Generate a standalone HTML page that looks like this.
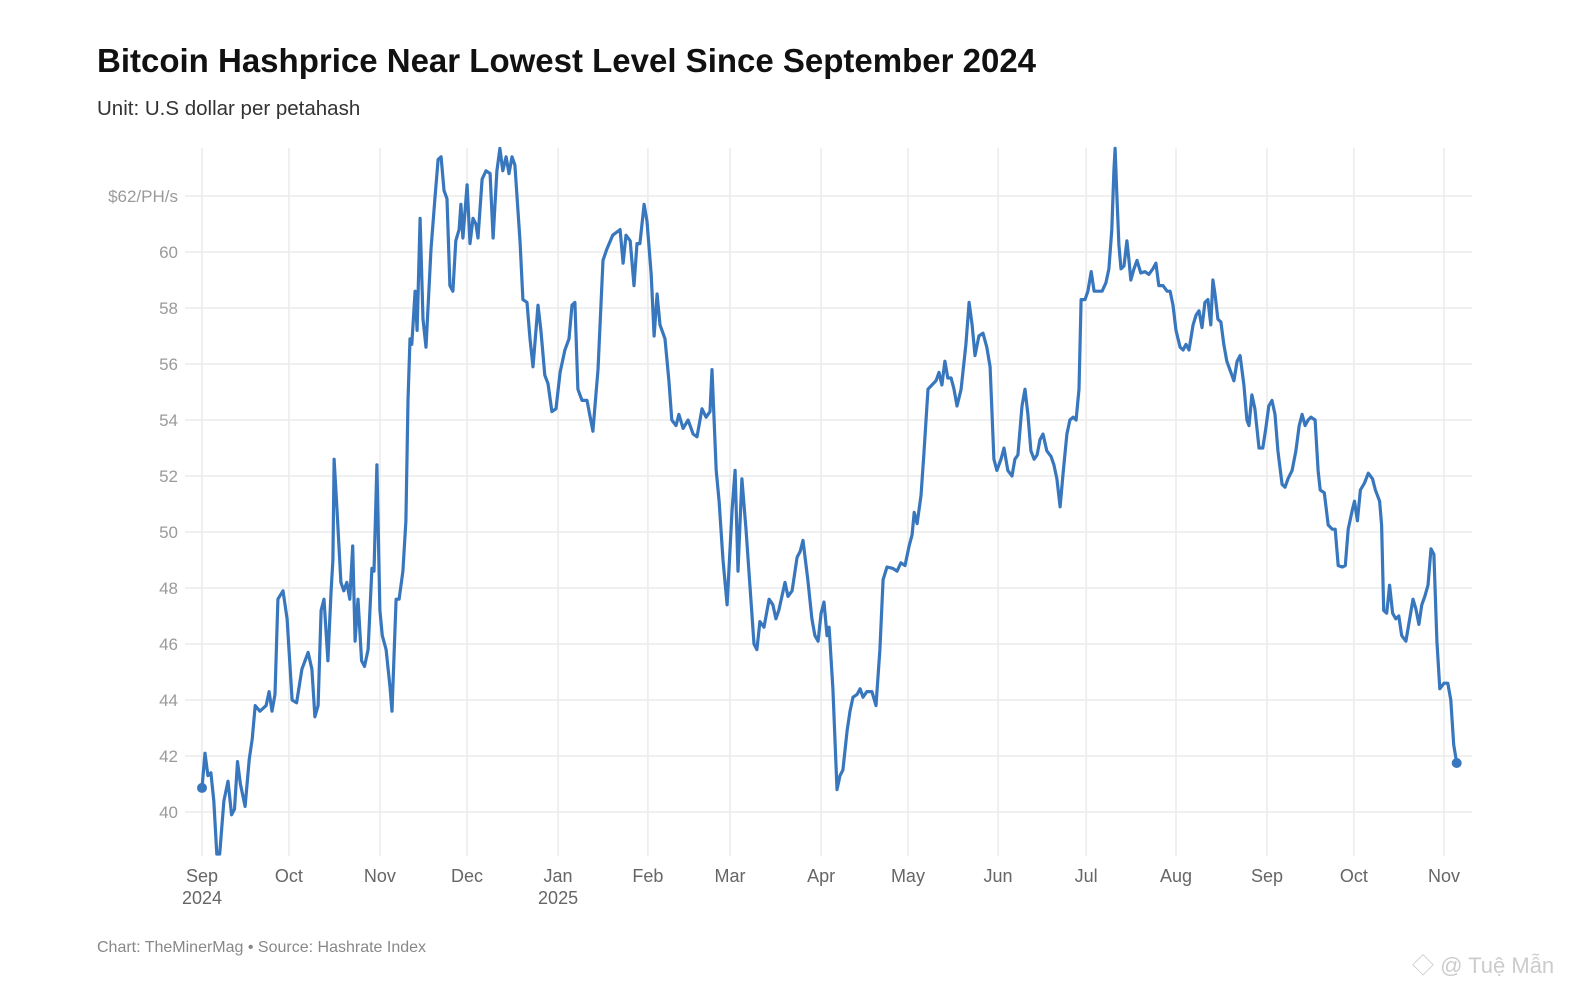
<!DOCTYPE html>
<html><head><meta charset="utf-8">
<style>
body{margin:0;background:#fff;width:1590px;height:1002px;overflow:hidden;font-family:"Liberation Sans",sans-serif;}
#title{position:absolute;left:97px;top:42px;font-size:33px;font-weight:bold;color:#111;letter-spacing:0px;}
#sub{position:absolute;left:97px;top:97px;font-size:20.5px;color:#333;}
#foot{position:absolute;left:97px;top:939px;font-size:16px;color:#888;}
#wm{position:absolute;left:1412px;top:948px;font-size:22px;color:#ccc;font-family:"Liberation Sans","Noto Sans CJK SC",sans-serif;}
svg{position:absolute;left:0;top:0;}
</style></head><body>
<div id="title">Bitcoin Hashprice Near Lowest Level Since September 2024</div>
<div id="sub">Unit: U.S dollar per petahash</div>
<div id="foot">Chart: TheMinerMag • Source: Hashrate Index</div>
<div id="wm">◇ @ Tuệ Mẫn</div>
<svg id="chart" width="1590" height="1002"></svg>
<script>
const days=[0,1,2,3,4,5,6,7.4,8.8,10,11,12,13,14.6,16,17,18,19.6,21.7,22.7,23.7,24.7,25.7,27.4,28.8,30.5,32,33.8,35.9,37.2,38.2,39.3,40.3,41.3,42.6,43.7,44.3,44.7,45.7,47,48,49,50,51,51.8,52.8,54,55,56.2,57.5,58.2,59.2,60.2,61,62.3,63.6,64.3,65.7,66.7,68,69,69.7,70.4,71,72.1,72.8,73.8,74.8,75.8,77.5,78.8,79.9,80.9,81.9,82.9,83.9,84.9,85.9,87,87.6,88.3,89.7,90.7,91.7,92.7,93.4,94.8,96.1,97.5,98.5,99.8,100.8,101.8,102.9,103.9,104.9,105.9,107.6,108.6,110,111,112,113.7,114.7,116,117.1,118.4,119.8,121.2,122.8,124.2,125.2,126.2,127.2,128.6,130.3,132.3,134,135.7,137,139,141.5,142.5,143.5,144.9,146.2,147.2,148.2,149.6,150.6,152,153,154,155,156.7,158,159,160.4,161.4,162.8,164.5,166.2,167.5,169.2,170.6,171.9,172.6,174,175,176.3,177.7,179.4,180.4,181.4,182.7,184.1,185.4,186.8,187.8,188.8,190.2,191.9,193.2,194.2,195.2,197.3,198.3,199.7,201.4,202.4,203.4,205,206.4,207.4,208.5,209.5,210.5,211.5,212.2,213.5,214.9,215.9,216.9,218.3,219.3,220.3,221.7,222.7,223.7,225,226.7,228.1,229.4,230.5,231.8,233.8,235.2,236.5,237.9,239.3,240.3,241,242,243.3,244.3,245.7,247,248.4,249.4,250.4,251.4,252.4,253.5,254.5,255.5,256.9,258.5,259.6,260.6,261.6,262.9,264.3,265.6,266.7,268,269,270.4,271.4,272.7,274.1,275.1,276.1,277.5,278.5,279.5,280.5,281.6,282.6,283.6,284.6,285.9,287.3,288.3,289.3,290.4,291.4,292.7,293.7,294.8,295.8,296.8,297.5,298.8,299.8,300.9,301.9,303.2,304.6,305.9,306.9,307.9,308.6,309,309.6,310.3,311,312,313,313.7,314.3,315.4,316.4,317.7,319.1,320.4,321.8,322.8,323.8,325.2,326.6,327.6,328.6,329.6,331,332,333,334,335.4,336.4,337.4,338.4,339.4,340.4,341.4,342.1,342.8,343.8,344.8,345.8,346.8,348.2,349.2,350.3,351.3,352.6,353.6,354.3,355.3,356.3,357.7,359,360,361,362.1,363.1,364.1,365.5,366.5,367.5,368.9,370.2,371.3,372.3,373.3,374.3,375.3,376.7,377.7,378.4,379.8,381.1,382.5,383.5,384.5,385.9,386.9,387.9,389.3,390,391,392,393.4,394.7,396.1,397.1,398.5,399.2,399.9,400.9,401.9,402.9,404,405,406,407.4,408.7,409.8,410.8,411.8,412.8,413.8,414.9,415.9,416.9,417.9,418.9,420.3,421.6,422.6,423.6,424.6];
const values=[40.86,42.1,41.3,41.4,40.4,38.5,38.5,40.4,41.1,39.9,40.1,41.8,41.0,40.2,41.9,42.6,43.8,43.6,43.8,44.3,43.6,44.2,47.6,47.9,46.9,44.0,43.9,45.1,45.7,45.1,43.4,43.8,47.2,47.6,45.4,47.9,49,52.6,50.8,48.2,47.9,48.2,47.6,49.5,46.1,47.6,45.4,45.2,45.8,48.7,48.6,52.4,47.2,46.3,45.8,44.5,43.6,47.6,47.6,48.6,50.4,54.7,56.9,56.7,58.6,57.2,61.2,57.6,56.6,60.1,61.9,63.3,63.4,62.2,61.9,58.8,58.6,60.4,60.8,61.7,60.5,62.4,60.3,61.2,61.0,60.5,62.6,62.9,62.8,60.5,62.9,63.7,62.9,63.4,62.8,63.4,63.1,60.4,58.3,58.2,56.9,55.9,58.1,57.2,55.6,55.3,54.3,54.4,55.7,56.5,56.9,58.1,58.2,55.1,54.7,54.7,53.6,55.8,59.7,60.1,60.6,60.8,59.6,60.6,60.4,58.8,60.3,60.3,61.7,61.1,59.2,57.0,58.5,57.4,56.9,55.4,54.0,53.8,54.2,53.7,54,53.5,53.4,54.4,54.1,54.3,55.8,52.2,51.1,49.0,47.4,50.8,52.2,48.6,51.9,50.1,48.1,46.0,45.8,46.8,46.6,47.6,47.4,46.9,47.2,48.2,47.7,47.9,49.1,49.3,49.7,48.3,46.9,46.3,46.1,47.1,47.5,46.3,46.6,44.4,40.8,41.3,41.5,42.9,43.6,44.1,44.2,44.4,44.1,44.3,44.3,43.8,45.8,48.3,48.75,48.7,48.6,48.9,48.8,49.5,49.9,50.7,50.3,51.3,52.8,55.1,55.25,55.4,55.7,55.25,56.1,55.5,55.5,55.1,54.5,55.1,56.7,58.2,57.4,56.3,57.0,57.1,56.6,55.9,52.6,52.2,52.6,53.0,52.2,52.0,52.6,52.75,54.5,55.1,54.2,52.9,52.6,52.75,53.3,53.5,52.9,52.7,52.4,51.9,50.9,52.1,53.5,54,54.1,54,55.1,58.3,58.3,58.6,59.3,58.6,58.6,58.6,58.9,59.4,60.8,62.9,63.7,62.0,60.25,59.4,59.5,60.4,59.7,59.0,59.4,59.7,59.25,59.3,59.2,59.4,59.6,58.8,58.8,58.6,58.6,58.1,57.2,56.6,56.5,56.7,56.5,57.4,57.75,57.9,57.3,58.2,58.3,57.4,59.0,58.5,57.6,57.5,56.7,56.1,55.7,55.4,56.1,56.3,55.25,54.0,53.8,54.9,54.4,53.0,53.0,53.7,54.5,54.7,54.2,52.9,51.7,51.6,51.9,52.2,52.9,53.8,54.2,53.8,54,54.1,54.0,52.2,51.5,51.4,50.25,50.1,50.1,48.8,48.75,48.8,50.1,50.8,51.1,50.4,51.5,51.75,52.1,51.9,51.5,51.1,50.25,47.2,47.1,48.1,47.1,46.9,47.0,46.3,46.1,46.9,47.6,47.25,46.7,47.4,47.7,48.1,49.4,49.2,46.1,44.4,44.6,44.6,44,42.4,41.75];
const yTicks=[40,42,44,46,48,50,52,54,56,58,60,62];
const yTickLabels=["40","42","44","46","48","50","52","54","56","58","60","$62/PH/s"];
const xTickDays=[0,29.4,60.2,89.7,120.5,150.9,178.7,209.5,238.9,269.4,299.2,329.6,360.4,389.8,420.3];
const xTickLabels=["Sep","Oct","Nov","Dec","Jan","Feb","Mar","Apr","May","Jun","Jul","Aug","Sep","Oct","Nov"];
const xTickYears=["2024","","","","2025","","","","","","","","","",""];

const NS="http://www.w3.org/2000/svg";
const svg=document.getElementById('chart');
const X=d=>202+d*2.955;
const Y=v=>812-(v-40)*28;
function mk(tag,attrs,parent){const e=document.createElementNS(NS,tag);for(const k in attrs)e.setAttribute(k,attrs[k]);(parent||svg).appendChild(e);return e;}
yTicks.forEach((t,i)=>{
  const l=mk('line',{x1:185,x2:1472,y1:Y(t),y2:Y(t),stroke:'#ebebeb','stroke-width':1.5});
  
  
  const tx=mk('text',{x:178,y:Y(t)+6,'text-anchor':'end','font-size':17,fill:'#9a9a9a','font-family':'Liberation Sans, sans-serif'});
  tx.textContent=yTickLabels[i];
  
  
});
xTickDays.forEach((d,i)=>{
  const l=mk('line',{x1:X(d),x2:X(d),y1:148,y2:856,stroke:'#ebebeb','stroke-width':1.5});
  
  
  const tx=mk('text',{x:X(d),y:882,'text-anchor':'middle','font-size':18,fill:'#666','font-family':'Liberation Sans, sans-serif'});
  tx.textContent=xTickLabels[i];
  
  
  if(xTickYears[i]){
    const ty=mk('text',{x:X(d),y:904,'text-anchor':'middle','font-size':18,fill:'#666','font-family':'Liberation Sans, sans-serif'});
    ty.textContent=xTickYears[i];
    
    
  }
});
const pts=days.map((d,i)=>X(d).toFixed(1)+','+Y(values[i]).toFixed(1)).join(' ');
const line=mk('polyline',{points:pts,fill:'none',stroke:'#3877bd','stroke-width':3.2,'stroke-linejoin':'round','stroke-linecap':'round'});


const s=mk('circle',{cx:X(days[0]),cy:Y(values[0]),r:5,fill:'#3877bd'});


const n=days.length-1;
const e=mk('circle',{cx:X(days[n]),cy:Y(values[n]),r:5,fill:'#3877bd'});


</script>
</body></html>
